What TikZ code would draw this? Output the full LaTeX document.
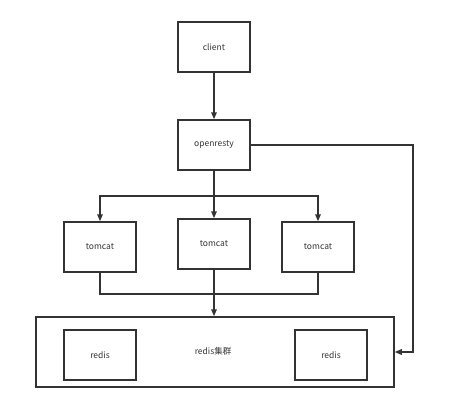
\documentclass[tikz,border=0pt]{standalone}
\usepackage{fontspec}
\setmainfont{Noto Sans CJK SC}
\usetikzlibrary{arrows.meta,positioning}
\definecolor{linegray}{HTML}{333333}
\begin{document}
\begin{tikzpicture}[x=1pt,y=-1pt,->,>={Triangle[length=7pt,width=5.5pt]},line width=1.5pt,draw=linegray,
  box/.style={draw=linegray,line width=1.5pt,rectangle,minimum width=72pt,minimum height=50pt,inner sep=0pt,font=\fontsize{8.5}{10}\selectfont,text=linegray},
  every edge/.style={draw=linegray,line width=1.5pt}]
\useasboundingbox (0,0) rectangle (474,400);
\node[box] (client) at (214,47) {client};
\node[box] (openresty) at (214,145) {openresty};
\node[box] (tomcat1) at (100,247) {tomcat};
\node[box] (tomcat2) at (214,244) {tomcat};
\node[box] (tomcat3) at (318,247) {tomcat};
\node[box, minimum width=358pt, minimum height=70pt] (cluster) at (215,352) {};
\node[box] (redis1) at (100,355) {redis};
\node[box] (redis2) at (331,355) {redis};
\node[font=\fontsize{8.5}{10}\selectfont,text=linegray] (clusterlabel) at (213,351) {redis集群};
\coordinate (branch) at (214,196);
\coordinate (merge) at (214,294);
\coordinate (bend) at (413,145);
\path (client) edge (openresty);
\path (openresty.south) edge (tomcat2.north);
\draw[color=linegray] (branch) -| (tomcat1.north);
\draw[color=linegray] (branch) -| (tomcat3.north);
\draw[-,color=linegray] (tomcat1.south) |- (merge);
\draw[-,color=linegray] (tomcat3.south) |- (merge);
\path (tomcat2.south) edge (tomcat2.south |- cluster.north);
\draw[color=linegray] (openresty.east) -- (bend) |- (cluster.east);
\end{tikzpicture}
\end{document}
